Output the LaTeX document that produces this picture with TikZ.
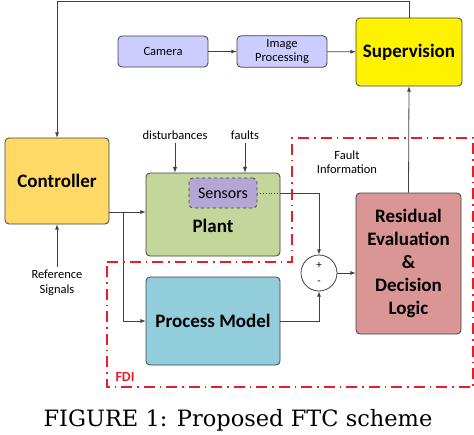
\documentclass[tikz,border=0pt]{standalone}
\usepackage{fontspec}
\setsansfont{Carlito}
\newfontfamily\capfont{DejaVu Serif}
\usetikzlibrary{calc}

\definecolor{lavend}{RGB}{204,204,255}
\definecolor{ctrlcol}{RGB}{255,217,102}
\definecolor{plantcol}{RGB}{196,215,155}
\definecolor{senscol}{RGB}{180,167,214}
\definecolor{modelcol}{RGB}{146,205,220}
\definecolor{residcol}{RGB}{218,150,148}
\definecolor{fdired}{RGB}{230,30,40}
\definecolor{wire}{RGB}{64,64,64}

\begin{document}
\begin{tikzpicture}[x=1pt,y=-1pt,font=\sffamily,>=latex,
    block/.style={draw=wire,rounded corners=4pt,line width=0.8pt,align=center},
    small/.style={font=\sffamily\fontsize{12.5}{14.5}\selectfont,align=center},
    big/.style={font=\sffamily\bfseries\fontsize{19}{23}\selectfont,align=center},
    conn/.style={draw=wire,line width=0.8pt}]
    \useasboundingbox (0,0) rectangle (474,434);

    % upper row
    \node[block,small,fill=lavend,minimum width=90pt,minimum height=31pt] (camera) at (163,51.5) {Camera};
    \node[block,small,fill=lavend,minimum width=90pt,minimum height=31pt] (improc) at (282,51.5) {Image\\Processing};
    \node[block,big,fill=yellow,minimum width=106pt,minimum height=68pt] (superv) at (409,52) {Supervision};

    % controller and plant
    \node[block,big,fill=ctrlcol,minimum width=104pt,minimum height=86pt] (ctrl) at (57,181) {Controller};
    \node[small] (refsig) at (57,283) {Reference\\Signals};
    \node[block,fill=plantcol,minimum width=134pt,minimum height=83pt] (plant) at (213,214.5) {};
    \node[big] (plantlbl) at (213,226) {Plant};
    \node[draw=wire,dashed,rounded corners=4pt,line width=0.8pt,fill=senscol,minimum width=68pt,minimum height=30pt,
          font=\sffamily\fontsize{16}{18}\selectfont] (sensors) at (223,193) {Sensors};
    \node[small] (dist) at (175,135) {disturbances};
    \node[small] (faults) at (245,135) {faults};

    % fdi part
    \node[block,big,fill=modelcol,minimum width=134pt,minimum height=88pt] (pmodel) at (213,321) {Process Model};
    \node[block,big,fill=residcol,minimum width=105pt,minimum height=141pt] (resid) at (408.5,263.5) {Residual\\Evaluation\\\&\\Decision\\Logic};
    \node[draw=wire,circle,fill=white,minimum size=36pt,line width=0.8pt] (sum) at (319,273) {};
    \node[font=\sffamily\fontsize{11}{11}\selectfont] (plus) at (319,265) {+};
    \node[font=\sffamily\fontsize{11}{11}\selectfont] (minus) at (319,283) {-};
    \node[small] (faultinf) at (347,162) {Fault\\Information};

    % connectors
    \coordinate (fbk) at (57,1);
    \coordinate (br) at (123,212);
    \draw[conn,->] (camera) -- (improc);
    \draw[conn,->] (improc) -- (superv);
    \draw[conn,->] (superv.north) |- (fbk) -- (ctrl.north);
    \draw[conn,->] (refsig.north) -- (ctrl.south);
    \draw[conn,->] (br -| ctrl.east) -- (br -| plant.west);
    \draw[conn,->] (br) |- (pmodel.west);
    \draw[conn,->,line width=1pt] (dist.south) -- (dist.south |- plant.north);
    \draw[conn,->,line width=1pt] (faults.south) -- (faults.south |- plant.north);
    \draw[conn,dotted] (sensors.east) -- (sensors.east -| plant.east);
    \draw[conn,->] (sensors.east -| plant.east) -| (sum.north);
    \draw[conn,->] (pmodel.east) -| (sum.south);
    \draw[conn,->] (sum.east) -- (sum.east -| resid.west);
    \draw[conn,->] (resid.north) -- (superv.south);

    % fdi frame
    \draw[fdired,line width=2pt,dash pattern=on 11pt off 5pt on 1.5pt off 5pt]
        (107,262) -- (292,262) -- (292,138) -- (473,138) -- (473,387) -- (107,387) -- cycle;
    \node[text=fdired,font=\sffamily\bfseries\fontsize{14}{14}\selectfont] (fdi) at (125,377) {FDI};

    % caption
    \node[font=\capfont\fontsize{22.5}{24}\selectfont] (caption) at (238,420) {FIGURE 1: Proposed FTC scheme};
\end{tikzpicture}
\end{document}
